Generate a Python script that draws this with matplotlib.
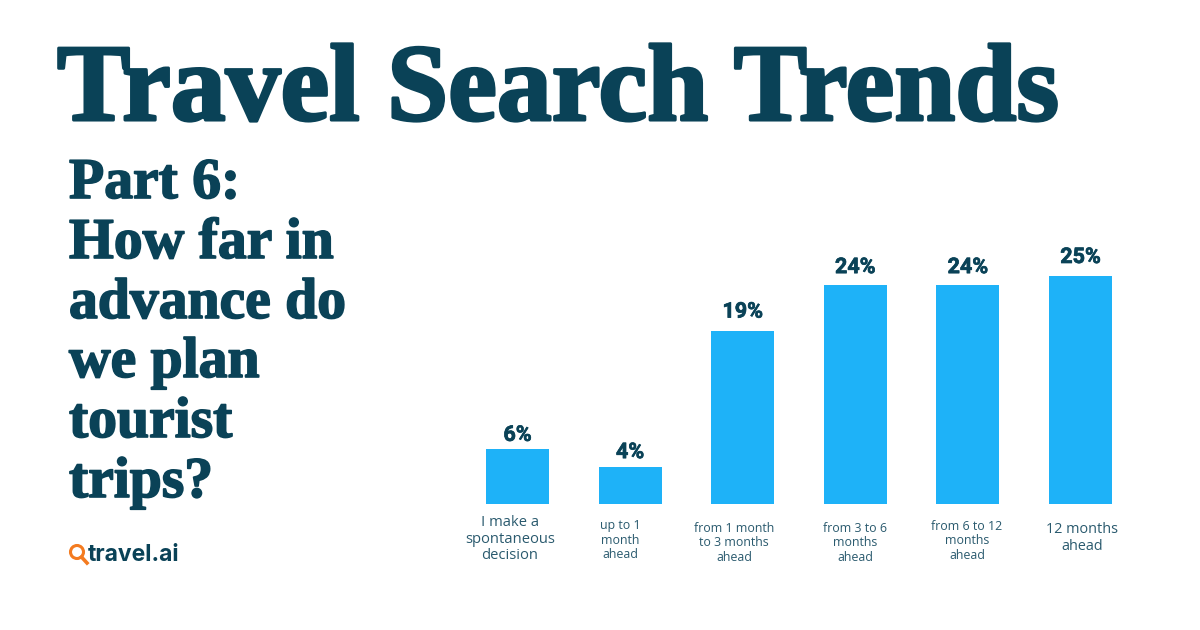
import matplotlib
matplotlib.use("Agg")
import matplotlib.pyplot as plt
import matplotlib.patheffects as pe
from matplotlib.patches import Circle
from matplotlib.lines import Line2D

# --- data ---
categories = ["I make a\nspontaneous\ndecision", "up to 1\nmonth\nahead",
              "from 1 month\nto 3 months\nahead", "from 3 to 6\nmonths\nahead",
              "from 6 to 12\nmonths\nahead", "12 months\nahead"]
values = [6, 4, 19, 24, 24, 25]
labels = ["6%", "4%", "19%", "24%", "24%", "25%"]

title = "Travel Search Trends"
subtitle_lines = ["Part 6:", "How far in", "advance do", "we plan", "tourist", "trips?"]

# the labels were placed by hand in the original, so they are a bit uneven
label_gap = [8, 9, 13, 12, 12, 13]       # px, bar top to text baseline
cat_dx = [-7.5, -10, -8.5, 0, -1, 2]     # px
cat_top = [515, 519, 522, 522, 520, 522]  # px from top of figure
cat_size = [10.6, 8.9, 8.9, 8.9, 8.9, 10.4]

DARK = "#0a4257"
BLUE = "#1eb2f8"
ORANGE = "#f47b20"
W, H = 1200, 630
PX = 72 / 100  # points per pixel

fig = plt.figure(figsize=(12, 6.3), dpi=100, facecolor="white")

# --- bars ---
ax = fig.add_axes([461.2 / W, 1 - 503.5 / H, 675.6 / W, 300 / H])
x = range(len(values))
ax.bar(x, values, width=0.56, color=BLUE)
ax.set_xlim(-0.5, 5.5)
ax.set_ylim(0, 300 / 9.1)
ax.axis("off")
for i, v in enumerate(values):
    t = ax.annotate(labels[i], (i, v), xytext=(0, label_gap[i] * PX), textcoords="offset points",
                    ha="center", va="baseline", color=DARK, fontsize=15.5,
                    fontfamily="Roboto", fontweight="bold")
    t.set_path_effects([pe.withStroke(linewidth=0.5, foreground=DARK)])
    ax.annotate(categories[i], (i, 0), xytext=(cat_dx[i] * PX, (503.5 - cat_top[i]) * PX),
                textcoords="offset points", ha="center", va="top", color="#2a5a6e",
                fontsize=cat_size[i], fontfamily="Open Sans", linespacing=1.15,
                multialignment="center")

# --- titles ---
t = fig.text(57 / W, 1 - 120 / H, title, fontfamily="Liberation Serif", fontweight="bold",
             fontsize=79, color=DARK, ha="left", va="baseline")
t.set_path_effects([pe.withStroke(linewidth=2.2, foreground=DARK)])
line_y = [198, 258, 318, 377, 437, 497]
for s, y in zip(subtitle_lines, line_y):
    t = fig.text(69 / W, 1 - y / H, s, fontfamily="Liberation Serif", fontweight="bold",
                 fontsize=41.5, color=DARK, ha="left", va="baseline")
    t.set_path_effects([pe.withStroke(linewidth=1.2, foreground=DARK)])

# --- logo ---
over = fig.add_axes([0, 0, 1, 1])
over.set_xlim(0, W)
over.set_ylim(H, 0)
over.axis("off")
over.patch.set_alpha(0)
over.add_patch(Circle((77, 552), 6.5, fill=False, ec=ORANGE, lw=2.2))
over.add_line(Line2D([81.5, 87], [557, 563], color=ORANGE, lw=2.6))
fig.text(88 / W, 1 - 561 / H, "travel.ai", fontfamily="Inter", fontweight="bold",
         fontsize=16.5, color=DARK, ha="left", va="baseline")

fig.savefig("out.png", dpi=100)
